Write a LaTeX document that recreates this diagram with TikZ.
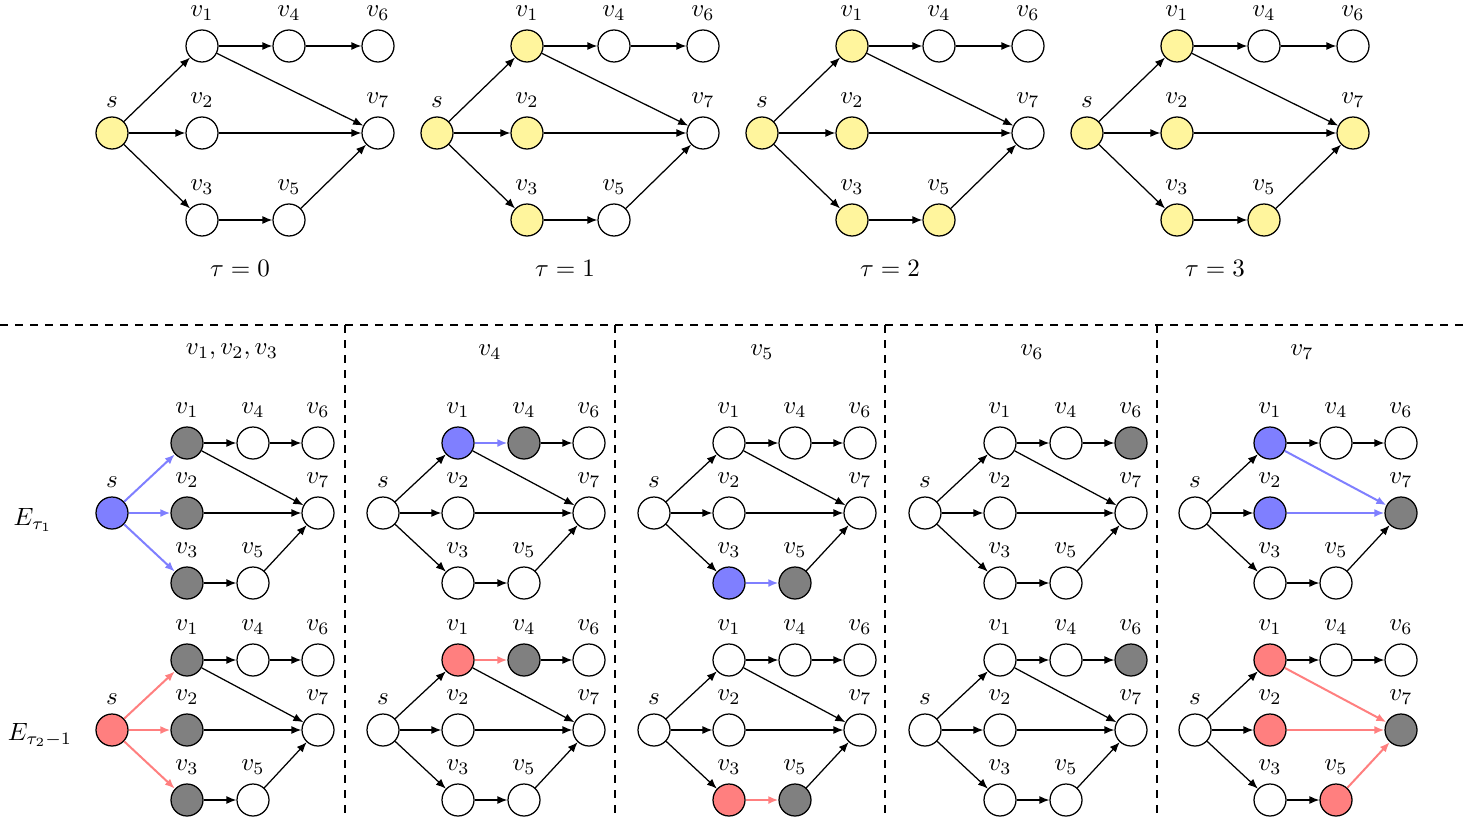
\documentclass[tikz,border=0pt]{standalone}
\usetikzlibrary{arrows.meta}
\definecolor{yel}{HTML}{FFF59D}
\definecolor{blu}{HTML}{7F7FFF}
\definecolor{rd}{HTML}{FF7F7F}
\definecolor{gr}{HTML}{808080}
\tikzset{
 vx/.style={circle,draw,line width=0.5pt,fill=white,minimum size=12.8pt,inner sep=0pt},
 arr/.style={-{Latex[length=4pt,width=3.2pt]},line width=0.5pt},
 ns/.style={},n1/.style={},n2/.style={},n3/.style={},n4/.style={},n5/.style={},n6/.style={},n7/.style={},
 es1/.style={},es2/.style={},es3/.style={},e14/.style={},e46/.style={},e17/.style={},e27/.style={},e35/.style={},e57/.style={},
 Y/.style={fill=yel},B/.style={fill=blu},R/.style={fill=rd},G/.style={fill=gr},
 EB/.style={draw=blu,line width=0.8pt},ER/.style={draw=rd,line width=0.8pt},
 lab/.style={label distance=0pt}
}
% #1 name, #2 ox, #3 oy, #4 v1 dx, #5 v4 dx, #6 v6 dx, #7 dy, #8 styles
\newcommand\Gr[8]{%
\begin{scope}[shift={(#2,#3)},#8]
 \node[vx,ns,label={above:$s$}] (#1s) at (0,0) {};
 \node[vx,n1,label={above:$v_1$}] (#1v1) at (#4,-#7) {};
 \node[vx,n2,label={above:$v_2$}] (#1v2) at (#4,0) {};
 \node[vx,n3,label={above:$v_3$}] (#1v3) at (#4,#7) {};
 \node[vx,n4,label={above:$v_4$}] (#1v4) at (#5,-#7) {};
 \node[vx,n5,label={above:$v_5$}] (#1v5) at (#5,#7) {};
 \node[vx,n6,label={above:$v_6$}] (#1v6) at (#6,-#7) {};
 \node[vx,n7,label={above:$v_7$}] (#1v7) at (#6,0) {};
 \draw[arr,es1] (#1s)--(#1v1);
 \draw[arr,es2] (#1s)--(#1v2);
 \draw[arr,es3] (#1s)--(#1v3);
 \draw[arr,e14] (#1v1)--(#1v4);
 \draw[arr,e46] (#1v4)--(#1v6);
 \draw[arr,e17] (#1v1)--(#1v7);
 \draw[arr,e27] (#1v2)--(#1v7);
 \draw[arr,e35] (#1v3)--(#1v5);
 \draw[arr,e57] (#1v5)--(#1v7);
\end{scope}}
\newcommand\Top[3]{\Gr{#1}{#2}{133}{90}{177}{266}{87}{#3}}
\newcommand\Bot[4]{\Gr{#1}{#2}{#3}{75}{141}{206}{70}{#4}}
\begin{document}
\begin{tikzpicture}[x=0.4pt,y=-0.4pt]
\useasboundingbox (0,0) rectangle (1470,819);
\Top{a}{112}{ns/.style=Y}
\Top{b}{437}{ns/.style=Y,n1/.style=Y,n2/.style=Y,n3/.style=Y}
\Top{c}{762}{ns/.style=Y,n1/.style=Y,n2/.style=Y,n3/.style=Y,n5/.style=Y}
\Top{d}{1087}{ns/.style=Y,n1/.style=Y,n2/.style=Y,n3/.style=Y,n5/.style=Y,n7/.style=Y}
\foreach \x/\t in {112/0,437/1,762/2,1087/3} \node (tau\t) at (\x+128,268) {$\tau=\t$};
\draw[dashed,line width=0.5pt] (0,325) coordinate (h1) -- (1470,325) coordinate (h2);
\foreach \x [count=\i] in {345,615,885,1157} \draw[dashed,line width=0.5pt] (\x,325) coordinate (vt\i) -- (\x,819) coordinate (vb\i);
\node (h1) at (232,352) {$v_1,v_2,v_3$};
\node (h2) at (490,352) {$v_4$};
\node (h3) at (762,352) {$v_5$};
\node (h4) at (1032,352) {$v_6$};
\node (h5) at (1302,352) {$v_7$};
\node (r1) at (33,520) {$E_{\tau_1}$};
\node (r2) at (40,735) {$E_{\tau_2-1}$};
% row 1
\Bot{p1}{112}{513}{ns/.style=B,n1/.style=G,n2/.style=G,n3/.style=G,es1/.style=EB,es2/.style=EB,es3/.style=EB}
\Bot{p2}{383}{513}{n1/.style=B,n4/.style=G,e14/.style=EB}
\Bot{p3}{654}{513}{n3/.style=B,n5/.style=G,e35/.style=EB}
\Bot{p4}{925}{513}{n6/.style=G}
\Bot{p5}{1195}{513}{n1/.style=B,n2/.style=B,n7/.style=G,e17/.style=EB,e27/.style=EB}
% row 2
\Bot{q1}{112}{730}{ns/.style=R,n1/.style=G,n2/.style=G,n3/.style=G,es1/.style=ER,es2/.style=ER,es3/.style=ER}
\Bot{q2}{383}{730}{n1/.style=R,n4/.style=G,e14/.style=ER}
\Bot{q3}{654}{730}{n3/.style=R,n5/.style=G,e35/.style=ER}
\Bot{q4}{925}{730}{n6/.style=G}
\Bot{q5}{1195}{730}{n1/.style=R,n2/.style=R,n5/.style=R,n7/.style=G,e17/.style=ER,e27/.style=ER,e57/.style=ER}
\end{tikzpicture}
\end{document}
